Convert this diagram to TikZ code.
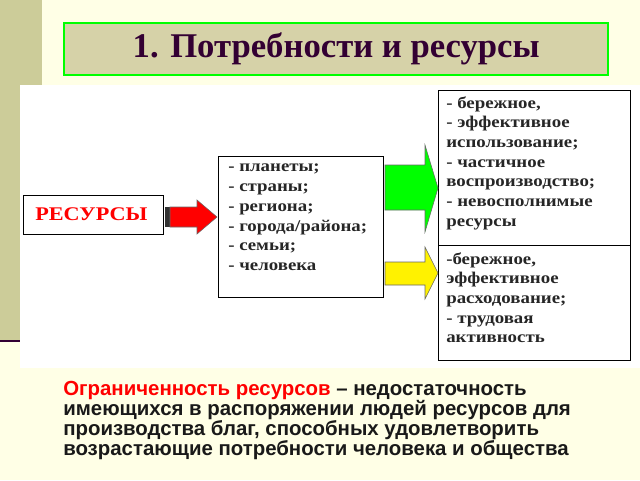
\documentclass[tikz,border=0pt]{standalone}
\usepackage{fontspec}
\setmainfont{Liberation Serif}
\newfontfamily\arial{Liberation Sans}
\newfontfamily\wideserif[FakeStretch=1.15]{Liberation Serif}
\usetikzlibrary{shapes.arrows}
\definecolor{bg}{HTML}{FFFFE6}
\definecolor{strip}{HTML}{CCCC99}
\definecolor{titlefill}{HTML}{D6D2A8}
\definecolor{titletext}{HTML}{330033}
\definecolor{grn}{HTML}{00FF00}
\tikzset{
  box/.style={draw=black,line width=0.9pt,fill=white},
  btext/.style={font=\wideserif\bfseries\fontsize{12.3}{14.8}\selectfont,align=left,anchor=north west,inner sep=0pt,text=black!85},
  arr/.style={draw=black!60,line width=0.4pt}
}
\begin{document}
\begin{tikzpicture}[x=0.75pt,y=-0.75pt]
\useasboundingbox (0,0) rectangle (640,480);
\fill[bg] (0,0) rectangle (640,480);
\fill[strip] (0,0) rectangle (42,340);
\draw[titletext,line width=1.5pt] (0,341) -- (22,341);
\node[draw=grn,line width=1.8pt,fill=titlefill,minimum width=544*0.75pt,minimum height=52*0.75pt,anchor=north west,inner sep=0pt] (title) at (63,22) {};
\node[text=titletext,font=\bfseries\fontsize{26}{30}\selectfont] (tt) at (title.center) {1. Потребности и ресурсы};
\fill[white] (20,85) rectangle (640,368);
% boxes
\node[box,anchor=north west,minimum width=140*0.75pt,minimum height=39*0.75pt,inner sep=0pt] (res) at (23,195) {};
\node[text=red,font=\wideserif\bfseries\fontsize{14.5}{16}\selectfont,anchor=west,inner sep=0pt] (rt) at (35,214) {РЕСУРСЫ};
\node[box,anchor=north west,minimum width=165*0.75pt,minimum height=141*0.75pt,inner sep=0pt] (mid) at (218,156) {};
\node[btext] (mt) at (228,164) {- планеты;\\- страны;\\- региона;\\- города/района;\\- семьи;\\- человека};
\node[box,anchor=north west,minimum width=192*0.75pt,minimum height=155*0.75pt,inner sep=0pt] (top) at (438,90) {};
\node[btext] (tpt) at (446,96) {- бережное,\\- эффективное\\использование;\\- частичное\\воспроизводство;\\- невосполнимые\\ресурсы};
\node[box,anchor=north west,minimum width=192*0.75pt,minimum height=115*0.75pt,inner sep=0pt] (bot) at (438,245) {};
\node[btext] (bt) at (446,252) {-бережное,\\эффективное\\расходование;\\- трудовая\\активность};
% arrows
\fill[black!80] (165,207) rectangle (170,227);
\draw[arr,fill=red] (170,207) -- (197,207) -- (197,200) -- (217,217) -- (197,234) -- (197,227) -- (170,227) -- cycle;
\draw[arr,fill=grn] (385,165) -- (425,165) -- (425,145) -- (438,188) -- (425,232) -- (425,210) -- (385,210) -- cycle;
\draw[arr,fill=yellow] (385,262) -- (425,262) -- (425,247) -- (438,273) -- (425,299) -- (425,285) -- (385,285) -- cycle;
% bottom text
\node[anchor=north west,align=left,inner sep=0pt,font=\arial\bfseries\fontsize{15.3}{15}\selectfont,text=black!90] (def) at (63,381)
{\textcolor{red}{Ограниченность ресурсов} – недостаточность\\имеющихся в распоряжении людей ресурсов для\\производства благ, способных удовлетворить\\возрастающие потребности человека и общества};
\end{tikzpicture}
\end{document}
